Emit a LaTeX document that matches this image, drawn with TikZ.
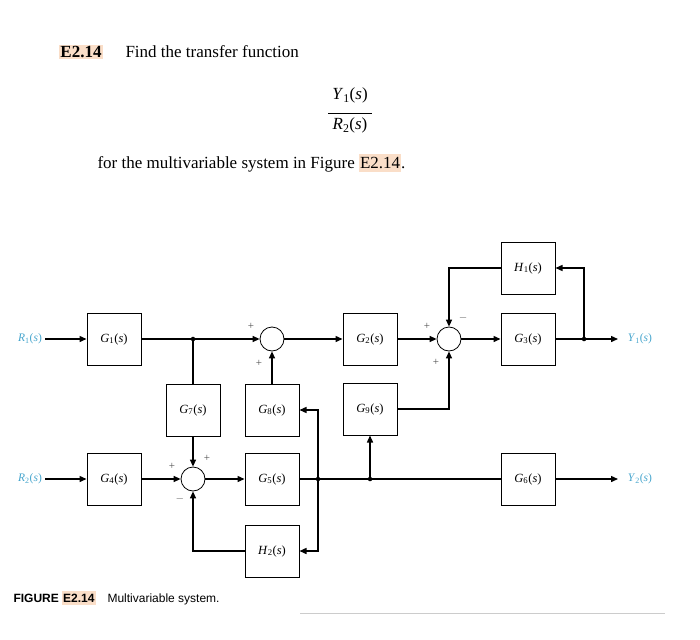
\documentclass[tikz,border=0pt]{standalone}
\usepackage{fontspec}
\setmainfont{Liberation Serif}
\setsansfont{Liberation Sans}
\usetikzlibrary{arrows.meta}
\definecolor{hl}{RGB}{250,222,200}
\definecolor{sig}{RGB}{70,165,205}
\newcommand{\tf}[2]{\textit{#1}\textsubscript{#2}(\textit{s})}
\begin{document}
\begin{tikzpicture}[x=1pt,y=-1pt,
  blk/.style={draw,line width=1pt,minimum width=54pt,minimum height=52pt,font=\fontsize{12.5}{13}\selectfont},
  sumn/.style={draw,circle,line width=0.8pt,minimum size=24pt,inner sep=0pt},
  ln/.style={line width=1.4pt},
  ar/.style={ln,-{Triangle[length=7pt,width=6pt]}},
  sg/.style={font=\fontsize{11}{11}\selectfont,text=black!70,inner sep=0pt},
  lab/.style={text=sig,font=\fontsize{11.5}{12}\selectfont},
  dot/.style={circle,fill,inner sep=1.6pt}]
\useasboundingbox (0,0) rectangle (700,639);
% header
\node[fill=hl,inner sep=1pt,font=\bfseries\fontsize{17}{18}\selectfont] (h1) at (81,52) {E2.14};
\node[anchor=west,font=\fontsize{17}{18}\selectfont] (h2) at (122,52) {Find the transfer function};
\node[font=\fontsize{17}{18}\selectfont] (fr) at (350,111) {\begin{tabular}{@{}c@{}}\tf{Y}{1}\\[-4pt]\rule{44pt}{0.8pt}\\[-2pt]\tf{R}{2}\end{tabular}};
\node[anchor=west,font=\fontsize{17}{18}\selectfont] (h3) at (94,163) {for the multivariable system in Figure \colorbox{hl}{\kern-2pt E2.14\kern-2pt}.};
% blocks
\node[blk] (G1) at (114,339) {\tf{G}{1}};
\node[blk] (G2) at (370,339) {\tf{G}{2}};
\node[blk] (G3) at (528,339) {\tf{G}{3}};
\node[blk] (H1) at (528,268) {\tf{H}{1}};
\node[blk] (G7) at (193,410) {\tf{G}{7}};
\node[blk] (G8) at (272,410) {\tf{G}{8}};
\node[blk] (G9) at (370,409) {\tf{G}{9}};
\node[blk] (G4) at (114,479) {\tf{G}{4}};
\node[blk] (G5) at (272,479) {\tf{G}{5}};
\node[blk] (G6) at (528,479) {\tf{G}{6}};
\node[blk] (H2) at (272,551) {\tf{H}{2}};
\node[sumn] (S1) at (272,339) {};
\node[sumn] (S2) at (193,479) {};
\node[sumn] (S3) at (449,339) {};
\node[lab] (R1) at (30,339) {\tf{R}{1}};
\node[lab] (R2) at (30,479) {\tf{R}{2}};
\node[lab] (Y1) at (640,339) {\tf{Y}{1}};
\node[lab] (Y2) at (640,479) {\tf{Y}{2}};
\coordinate (Y1e) at (618,339);
\coordinate (Y2e) at (618,479);
\node[dot] (d1) at (193,339) {};
\node[dot] (d2) at (318,479) {};
\node[dot] (d3) at (370,479) {};
\node[dot] (d4) at (584,339) {};
% connections
\draw[ar] (R1) -- (G1);
\draw[ar] (R2) -- (G4);
\draw[ar] (G1) -- (S1);
\draw[ln] (d1) -- (G7);
\draw[ar] (G7) -- (S2);
\draw[ar] (G8) -- (S1);
\draw[ar] (S1) -- (G2);
\draw[ar] (G2) -- (S3);
\draw[ar] (S3) -- (G3);
\draw[ar] (G3) -- (Y1e);
\draw[ar] (d4) |- (H1);
\draw[ar] (H1) -| (S3);
\draw[ar] (G9) -| (S3);
\draw[ar] (G4) -- (S2);
\draw[ar] (S2) -- (G5);
\draw[ln] (G5) -- (G6);
\draw[ar] (G6) -- (Y2e);
\draw[ar] (d2) |- (G8);
\draw[ar] (d2) |- (H2);
\draw[ar] (H2) -| (S2);
\draw[ar] (d3) -- (G9);
% signs
\node[sg] (p1) at (251,326) {+};
\node[sg] (p2) at (259,363) {+};
\node[sg] (p3) at (172,466) {+};
\node[sg] (p4) at (207,458) {+};
\node[sg] (m1) at (180,499) {$-$};
\node[sg] (p5) at (427,326) {+};
\node[sg] (m2) at (463,318) {$-$};
\node[sg] (p6) at (436,362) {+};
% caption
\node[anchor=west,font=\sffamily\fontsize{12}{13}\selectfont] (cap) at (10,598) {\textbf{FIGURE} \colorbox{hl}{\kern-2pt\textbf{E2.14}\kern-2pt}\quad Multivariable system.};
\draw[black!20,line width=0.8pt] (300,613) -- (665,613);
\end{tikzpicture}
\end{document}
